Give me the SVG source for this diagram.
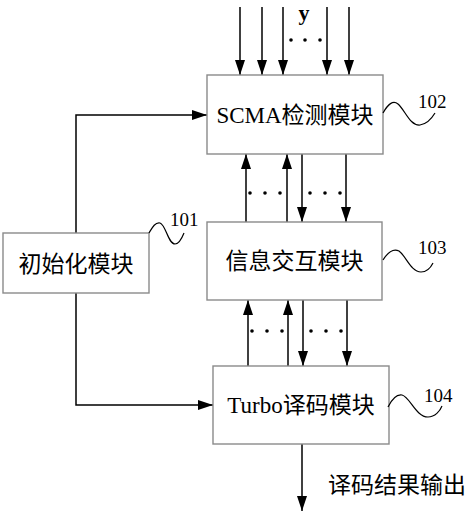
<svg xmlns="http://www.w3.org/2000/svg" width="474" height="512" viewBox="0 0 474 512">
<style>
.box{fill:#fff;stroke:#8a8a8a;stroke-width:1.4}
.ln{fill:none;stroke:#000;stroke-width:1.5}
.wv{fill:none;stroke:#000;stroke-width:1.2}
.t{font-family:"Liberation Serif","Noto Sans CJK SC",serif;font-size:23px;fill:#000}
.n{font-family:"Liberation Serif",serif;font-size:19px;fill:#000}
.d{fill:#000}
</style>
<defs>
<marker id="ah" markerUnits="userSpaceOnUse" markerWidth="15" markerHeight="10" refX="15" refY="5" orient="auto">
<path d="M0,0 L15,5 L0,10 z" fill="#000"/>
</marker>
</defs>
<rect width="474" height="512" fill="#fff"/>
<g id="connectors">
<path class="ln" d="M240,7 V75" marker-end="url(#ah)"/>
<path class="ln" d="M262,7 V75" marker-end="url(#ah)"/>
<path class="ln" d="M283,7 V75" marker-end="url(#ah)"/>
<path class="ln" d="M327,7 V75" marker-end="url(#ah)"/>
<path class="ln" d="M349,7 V75" marker-end="url(#ah)"/>
<circle class="d" cx="291" cy="40" r="1.8"/>
<circle class="d" cx="305" cy="40" r="1.8"/>
<circle class="d" cx="320" cy="40" r="1.8"/>
<path class="ln" d="M246,222 V154" marker-end="url(#ah)"/>
<path class="ln" d="M287,222 V154" marker-end="url(#ah)"/>
<path class="ln" d="M302,154 V222" marker-end="url(#ah)"/>
<path class="ln" d="M346,154 V222" marker-end="url(#ah)"/>
<circle class="d" cx="250" cy="193" r="1.8"/>
<circle class="d" cx="265" cy="193" r="1.8"/>
<circle class="d" cx="280" cy="193" r="1.8"/>
<circle class="d" cx="310" cy="193" r="1.8"/>
<circle class="d" cx="325" cy="193" r="1.8"/>
<circle class="d" cx="340" cy="193" r="1.8"/>
<path class="ln" d="M248,366 V300" marker-end="url(#ah)"/>
<path class="ln" d="M288,366 V300" marker-end="url(#ah)"/>
<path class="ln" d="M303,300 V366" marker-end="url(#ah)"/>
<path class="ln" d="M347,300 V366" marker-end="url(#ah)"/>
<circle class="d" cx="252" cy="331" r="1.8"/>
<circle class="d" cx="267" cy="331" r="1.8"/>
<circle class="d" cx="282" cy="331" r="1.8"/>
<circle class="d" cx="311" cy="331" r="1.8"/>
<circle class="d" cx="326" cy="331" r="1.8"/>
<circle class="d" cx="341" cy="331" r="1.8"/>
<path class="ln" d="M76,233 V115 H207" marker-end="url(#ah)"/>
<path class="ln" d="M76,293 V405 H213" marker-end="url(#ah)"/>
<path class="ln" d="M302,444 V511" marker-end="url(#ah)"/>
</g>
<text x="304" y="20" text-anchor="middle" font-family="Liberation Serif,serif" font-weight="bold" font-size="22" fill="#000">y</text>
<g id="scma">
<rect class="box" x="207" y="75" width="176" height="79"/>
<text class="t" x="295" y="123" text-anchor="middle">SCMA检测模块</text>
<path class="wv" d="M383,113 C388,104 393,100 398,104 C405,110 410,126 420,125 C427,124 432,118 435,113"/>
<text class="n" x="418" y="108">102</text>
</g>
<g id="info">
<rect class="box" x="207" y="222" width="175" height="78"/>
<text class="t" x="294.5" y="269" text-anchor="middle">信息交互模块</text>
<path class="wv" d="M383,260 C388,252 393,248 399,251 C406,256 411,272 421,272 C427,272 431,267 433,263"/>
<text class="n" x="418" y="254">103</text>
</g>
<g id="turbo">
<rect class="box" x="213" y="366" width="176" height="78"/>
<text class="t" x="301" y="413" text-anchor="middle">Turbo译码模块</text>
<path class="wv" d="M388,407 C392,399 396,394 402,395 C410,397 416,417 428,417 C435,417 440,411 442,406"/>
<text class="n" x="424" y="402">104</text>
</g>
<g id="init">
<rect class="box" x="3" y="233" width="146" height="60"/>
<text class="t" x="76" y="272" text-anchor="middle">初始化模块</text>
<path class="wv" d="M149,233 C152,228 155,222 160,223 C166,225 168,244 175,244 C179,244 182,238 184,233"/>
<text class="n" x="170" y="226">101</text>
</g>
<g id="output">
<text class="t" x="328" y="493">译码结果输出</text>
</g>
</svg>
